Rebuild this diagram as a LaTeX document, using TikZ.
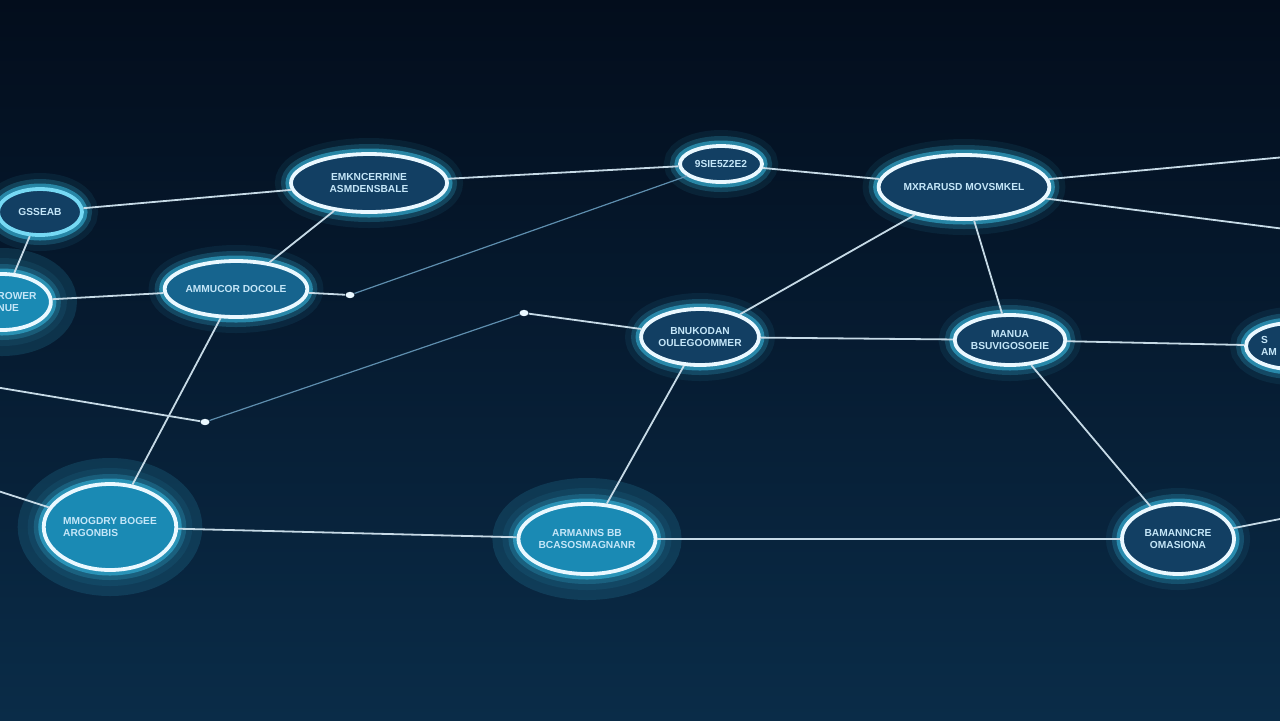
\documentclass[tikz,border=0pt]{standalone}
\usepackage{fontspec}
\setmainfont{Liberation Sans}
\usetikzlibrary{shapes.geometric}
\definecolor{ringc}{HTML}{EAF8FF}
\definecolor{glowc}{HTML}{3CC8F0}
\definecolor{dfill}{HTML}{123F63}
\definecolor{bfill}{HTML}{1A8AB4}
\definecolor{mfill}{HTML}{16648E}
\definecolor{txtc}{HTML}{C4E6F8}
\definecolor{edgec}{HTML}{C6DAE6}
\definecolor{faintc}{HTML}{5E8EAE}
\definecolor{bgA}{HTML}{0D3D60}
\definecolor{bgB}{HTML}{0A2C48}
\definecolor{bgC}{HTML}{061C32}
\definecolor{bgD}{HTML}{030D1C}
\definecolor{bgE}{HTML}{01040C}
\pgfdeclareverticalshading{bgshade}{100bp}{
  color(0bp)=(bgA);
  color(25bp)=(bgB);
  color(50bp)=(bgC);
  color(75bp)=(bgD);
  color(100bp)=(bgE)}
\tikzset{
  nd/.style={ellipse, draw=ringc, line width=1.9pt, fill=dfill, text=txtc,
    font=\fontsize{5.1}{6}\selectfont\bfseries, align=center, inner sep=0pt,
    preaction={draw=glowc, line width=16pt, draw opacity=0.08},
    preaction={draw=glowc, line width=10pt, draw opacity=0.2},
    preaction={draw=glowc, line width=5.5pt, draw opacity=0.5}},
  bright/.style={fill=bfill,
    preaction={draw=glowc, line width=26pt, draw opacity=0.14},
    preaction={fill=glowc, fill opacity=0.3}},
  mid/.style={fill=mfill},
  cyanring/.style={draw=glowc!70!white},
  link/.style={draw=edgec, line width=0.9pt},
  faint/.style={draw=faintc, line width=0.6pt},
  dot/.style={ellipse, fill=ringc, minimum width=4.5pt, minimum height=3.2pt, inner sep=0pt}
}
\begin{document}
\begin{tikzpicture}[x=0.5pt,y=-0.5pt]
\useasboundingbox (0,0) rectangle (1280,720);
\path[shading=bgshade] (0,0) rectangle (1280,720);
\clip (0,0) rectangle (1280,720);
% nodes
\node[nd, minimum width=78pt, minimum height=29pt] (A) at (369,183) {EMKNCERRINE\\ASMDENSBALE};
\node[nd, minimum width=41pt, minimum height=18pt] (B) at (721,164) {9SIE5Z2E2};
\node[nd, minimum width=81pt, minimum height=32pt] (C) at (964,187) {MXRARUSD MOVSMKEL};
\node[nd, cyanring, minimum width=42pt, minimum height=23pt] (D) at (40,212) {GSSEAB};
\node[nd, mid, minimum width=62pt, minimum height=28pt] (E) at (236,289) {AMMUCOR DOCOLE};
\node[nd, bright, minimum width=46pt, minimum height=28pt, align=left] (F) at (2,302) {\hspace*{15pt}ROWER\\\hspace*{15pt}NUE};
\node[nd, minimum width=54pt, minimum height=28pt] (G) at (700,337) {BNUKODAN\\OULEGOOMMER};
\node[nd, minimum width=48pt, minimum height=25pt] (H) at (1010,340) {MANUA\\BSUVIGOSOEIE};
\node[nd, minimum width=46pt, minimum height=23pt, align=left] (I) at (1292,346) {\hspace*{0pt}S\\AM\hspace*{23pt}};
\node[nd, bright, minimum width=60pt, minimum height=43pt, align=left] (J) at (110,527) {MMOGDRY BOGEE\\ARGONBIS};
\node[nd, bright, minimum width=58pt, minimum height=35pt] (K) at (587,539) {ARMANNS BB\\BCASOSMAGNANR};
\node[nd, minimum width=56pt, minimum height=35pt] (L) at (1178,539) {BAMANNCRE\\OMASIONA};
\node[dot] (p1) at (350,295) {};
\node[dot] (p2) at (524,313) {};
\node[dot] (p3) at (205,422) {};
\coordinate (r1) at (1285,157);
\coordinate (r2) at (1285,229);
\coordinate (r3) at (1285,518);
\coordinate (l1) at (-5,387);
\coordinate (l2) at (-5,490);
% connectors
\path[link] (D) -- (A);
\path[link] (A) -- (B);
\path[link] (B) -- (C);
\path[link] (C) -- (r1);
\path[link] (C.-8) -- (r2);
\path[link] (A) -- (E);
\path[link] (E) -- (p1);
\path[faint] (p1) -- (B);
\path[link] (F) -- (E);
\path[link] (D) -- (F);
\path[link] (p2) -- (G);
\path[faint] (p3) -- (p2);
\path[link] (l1) -- (p3);
\path[link] (E) -- (J);
\path[link] (G) -- (C);
\path[link] (G) -- (H);
\path[link] (C) -- (H);
\path[link] (H) -- (I);
\path[link] (G) -- (K);
\path[link] (H) -- (L);
\path[link] (J) -- (K);
\path[link] (K) -- (L);
\path[link] (L) -- (r3);
\path[link] (l2) -- (J);
\end{tikzpicture}
\end{document}
